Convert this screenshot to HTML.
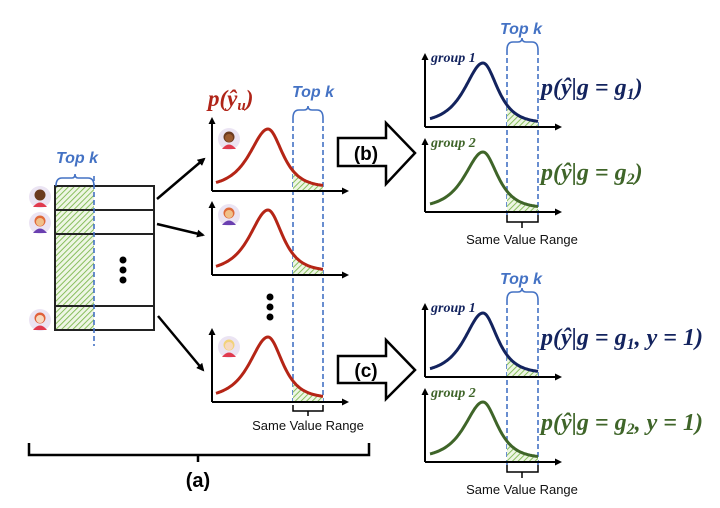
<!DOCTYPE html>
<html><head><meta charset="utf-8"><style>
html,body{margin:0;padding:0;background:#fff;}
svg{display:block;}
.lbl{font-family:"Liberation Sans",sans-serif;}
.math{font-family:"Liberation Serif",serif;font-weight:bold;font-style:italic;}
</style></head><body>
<svg id="fig" width="720" height="508" viewBox="0 0 720 508" xmlns="http://www.w3.org/2000/svg">
<defs>
<pattern id="hatch" width="4" height="4" patternUnits="userSpaceOnUse" patternTransform="rotate(45)">
<rect width="4" height="4" fill="#eef6e4"/>
<line x1="0" y1="0" x2="0" y2="4" stroke="#7db84f" stroke-width="1.8"/>
</pattern>
<marker id="ah" markerWidth="8" markerHeight="8" refX="6" refY="4" orient="auto" markerUnits="userSpaceOnUse"><path d="M0,0 L8,4 L0,8 Z" fill="#000"/></marker>
<marker id="ahs" markerWidth="7" markerHeight="7" refX="5" refY="3.5" orient="auto" markerUnits="userSpaceOnUse"><path d="M0,0 L7,3.5 L0,7 Z" fill="#000"/></marker>
</defs>

<g>
<rect x="55" y="186" width="39" height="144" fill="url(#hatch)"/>
<rect x="55" y="186" width="99" height="144" fill="none" stroke="#222" stroke-width="2"/>
<line x1="55" y1="210" x2="154" y2="210" stroke="#222" stroke-width="2"/>
<line x1="55" y1="234" x2="154" y2="234" stroke="#222" stroke-width="2"/>
<line x1="55" y1="306" x2="154" y2="306" stroke="#222" stroke-width="2"/>
<line x1="94" y1="176" x2="94" y2="346" stroke="#4472c4" stroke-width="1.6" stroke-dasharray="5,3"/>
<circle cx="123" cy="260" r="3.5" fill="#000"/><circle cx="123" cy="270" r="3.5" fill="#000"/><circle cx="123" cy="280" r="3.5" fill="#000"/>
</g>
<text x="77" y="163" text-anchor="middle" class="lbl" font-size="16" font-weight="bold" font-style="italic" fill="#4472c4">Top k</text>
<path d="M56,186 Q56,178 62,178 L72,178 Q75,178 75,174 Q75,178 78,178 L88,178 Q94,178 94,186" fill="none" stroke="#4472c4" stroke-width="1.6"/>

<g id="avatars"></g>

<line x1="157" y1="199" x2="204" y2="159" stroke="#000" stroke-width="2.5" marker-end="url(#ah)"/>
<line x1="157" y1="224" x2="203" y2="235" stroke="#000" stroke-width="2.5" marker-end="url(#ah)"/>
<line x1="158" y1="316" x2="203" y2="370" stroke="#000" stroke-width="2.5" marker-end="url(#ah)"/>

<text x="208" y="106" class="math" font-size="23" fill="#b02418">p(ŷ<tspan font-size="15" dy="4">u</tspan><tspan dy="-4">)</tspan></text>
<text x="313" y="97" text-anchor="middle" class="lbl" font-size="16" font-weight="bold" font-style="italic" fill="#4472c4">Top k</text>
<path d="M293,118 Q293,110 299,110 L304,110 Q308,110 308,106 Q308,110 312,110 L317,110 Q323,110 323,118" fill="none" stroke="#4472c4" stroke-width="1.6"/>
<line x1="293" y1="118" x2="293" y2="405" stroke="#4472c4" stroke-width="1.6" stroke-dasharray="5,3"/>
<line x1="323" y1="118" x2="323" y2="405" stroke="#4472c4" stroke-width="1.6" stroke-dasharray="5,3"/>
<circle cx="270" cy="297" r="3.5" fill="#000"/><circle cx="270" cy="307" r="3.5" fill="#000"/><circle cx="270" cy="317" r="3.5" fill="#000"/>
<path d="M293,405 L293,411 L323,411 L323,405 M308,411 L308,416" fill="none" stroke="#000" stroke-width="1.5"/>
<text x="308" y="430" text-anchor="middle" class="lbl" font-size="13" fill="#111">Same Value Range</text>

<path d="M29,443 L29,455 L369,455 L369,443 M198,455 L198,462" fill="none" stroke="#000" stroke-width="2.5"/>
<text x="198" y="487" text-anchor="middle" class="lbl" font-size="20" font-weight="bold" fill="#000">(a)</text>

<path d="M338,138 L386,138 L386,123 L415,153 L386,184 L386,166 L338,166 Z" fill="#fff" stroke="#000" stroke-width="2.5"/>
<text x="366" y="160" text-anchor="middle" class="lbl" font-size="19" font-weight="bold">(b)</text>
<path d="M338,356 L386,356 L386,340 L415,370 L386,399 L386,383 L338,383 Z" fill="#fff" stroke="#000" stroke-width="2.5"/>
<text x="366" y="377" text-anchor="middle" class="lbl" font-size="19" font-weight="bold">(c)</text>

<g id="right"></g>
<g id="plots"></g>
</svg>
<script>
const midAxisY = [191, 275, 402];
const midPeakH = [62, 65, 65];
const rightAxisY = [127, 212, 377, 462];
const rightPeakH = [64, 60, 64, 60];
const rightColors = ["#13235e", "#3f6529", "#13235e", "#3f6529"];
const rightGroups = ["group 1", "group 2", "group 1", "group 2"];
const rightLabels = [["g", "1", ""], ["g", "2", ""], ["g", "1", ", y = 1"], ["g", "2", ", y = 1"]];

const NS = "http://www.w3.org/2000/svg";
function mk(tag, attrs, parent){const e=document.createElementNS(NS,tag);for(const k in attrs)e.setAttribute(k,attrs[k]);parent.appendChild(e);return e;}
function sech(v){return 2/(Math.exp(v)+Math.exp(-v));}
function curveY(x, mu, base, h){const w = x<mu?16:12.8;return base - 4 - (h-4)*sech((x-mu)/w);}
const plots = document.getElementById('plots');

function drawPlot(ax, axisY, h, x0, x1, mu, xEnd, color, kx0, kx1, name){
  const g = mk('g', {}, plots);
  
  
  let d = `M${kx0},${axisY}`;
  for(let x=kx0;x<=kx1;x+=1) d += ` L${x},${curveY(x,mu,axisY,h)}`;
  d += ` L${kx1},${axisY} Z`;
  mk('path', {d, fill:'url(#hatch)'}, g);
  mk('line', {x1:ax, y1:axisY, x2:ax, y2:axisY-72, stroke:'#000','stroke-width':2,'marker-end':'url(#ahs)'}, g);
  mk('line', {x1:ax, y1:axisY, x2:xEnd, y2:axisY, stroke:'#000','stroke-width':2,'marker-end':'url(#ahs)'}, g);
  let c = '';
  for(let x=x0;x<=x1;x+=1) c += (x===x0?'M':' L') + x + ',' + curveY(x,mu,axisY,h).toFixed(1);
  const p = mk('path', {d:c, fill:'none', stroke:color, 'stroke-width':3}, g);
  
  
}

midAxisY.forEach((ay,i)=>{
  drawPlot(212, ay, midPeakH[i], 216, 323, 268, 347, '#b52516', 293, 323, 'user-distribution-' + (i+1));
});

const av = document.getElementById('avatars');
const avatarPos = [[40,197,'#6b3a1f','#e03a4f','#6b3a1f'],[40,223,'#e06a3a','#6a3fb0','#f0c08a'],[40,320,'#e0603a','#e03a4f','#f7d9c0'],
                   [229,139,'#6b3a1f','#e03a4f','#9b5a2f'],[229,215,'#e06a3a','#6a3fb0','#f0c08a'],[229,347,'#f2d27a','#e03a4f','#f7d9c0']];
avatarPos.forEach((a,i)=>{
  const g = mk('g', {}, av);
  
  
  mk('circle',{cx:a[0],cy:a[1],r:11,fill:'#ebe4f3'},g);
  mk('path',{d:`M${a[0]-7},${a[1]+10} Q${a[0]},${a[1]+1} ${a[0]+7},${a[1]+10} Z`,fill:a[3]},g);
  mk('circle',{cx:a[0],cy:a[1]-2,r:5.5,fill:a[2]},g);
  mk('circle',{cx:a[0],cy:a[1]-1,r:4,fill:a[4]},g);
});

const right = document.getElementById('right');
[0,250].forEach((off,s)=>{
  const t = mk('text',{x:521,y:34+off,'text-anchor':'middle',class:'lbl','font-size':16,'font-weight':'bold','font-style':'italic',fill:'#4472c4'},right);
  t.textContent = 'Top k';
  
  
  mk('path',{d:`M507,${50+off} Q507,${42+off} 513,${42+off} L518,${42+off} Q522,${42+off} 522,${38+off} Q522,${42+off} 526,${42+off} L532,${42+off} Q538,${42+off} 538,${50+off}`,fill:'none',stroke:'#4472c4','stroke-width':1.6},right);
  mk('line',{x1:507,y1:50+off,x2:507,y2:215+off,stroke:'#4472c4','stroke-width':1.6,'stroke-dasharray':'5,3'},right);
  mk('line',{x1:538,y1:50+off,x2:538,y2:215+off,stroke:'#4472c4','stroke-width':1.6,'stroke-dasharray':'5,3'},right);
  mk('path',{d:`M507,${215+off} L507,${222+off} L538,${222+off} L538,${215+off} M522,${222+off} L522,${228+off}`,fill:'none',stroke:'#000','stroke-width':1.5},right);
  const sv = mk('text',{x:522,y:244+off,'text-anchor':'middle',class:'lbl','font-size':13,fill:'#111'},right);
  sv.textContent = 'Same Value Range';
  
  
});

rightAxisY.forEach((ay,i)=>{
  drawPlot(425, ay, rightPeakH[i], 430, 538, 483, 560, rightColors[i], 507, 538, 'group-distribution-' + (i+1));
  const gt = mk('text',{x:431,y:ay-65,class:'math','font-size':14,fill:rightColors[i]},plots);
  gt.textContent = rightGroups[i];
  
  
  const lt = mk('text',{x:541,y:ay-32,class:'math','font-size':24,fill:rightColors[i]},plots);
  
  
  const L = rightLabels[i];
  lt.appendChild(document.createTextNode('p(ŷ|g = ' + L[0]));
  const sub = mk('tspan',{'font-size':16,dy:4},lt); sub.textContent = L[1];
  const rest = mk('tspan',{dy:-4},lt); rest.textContent = L[2] + ')';
});
</script>
</body></html>
